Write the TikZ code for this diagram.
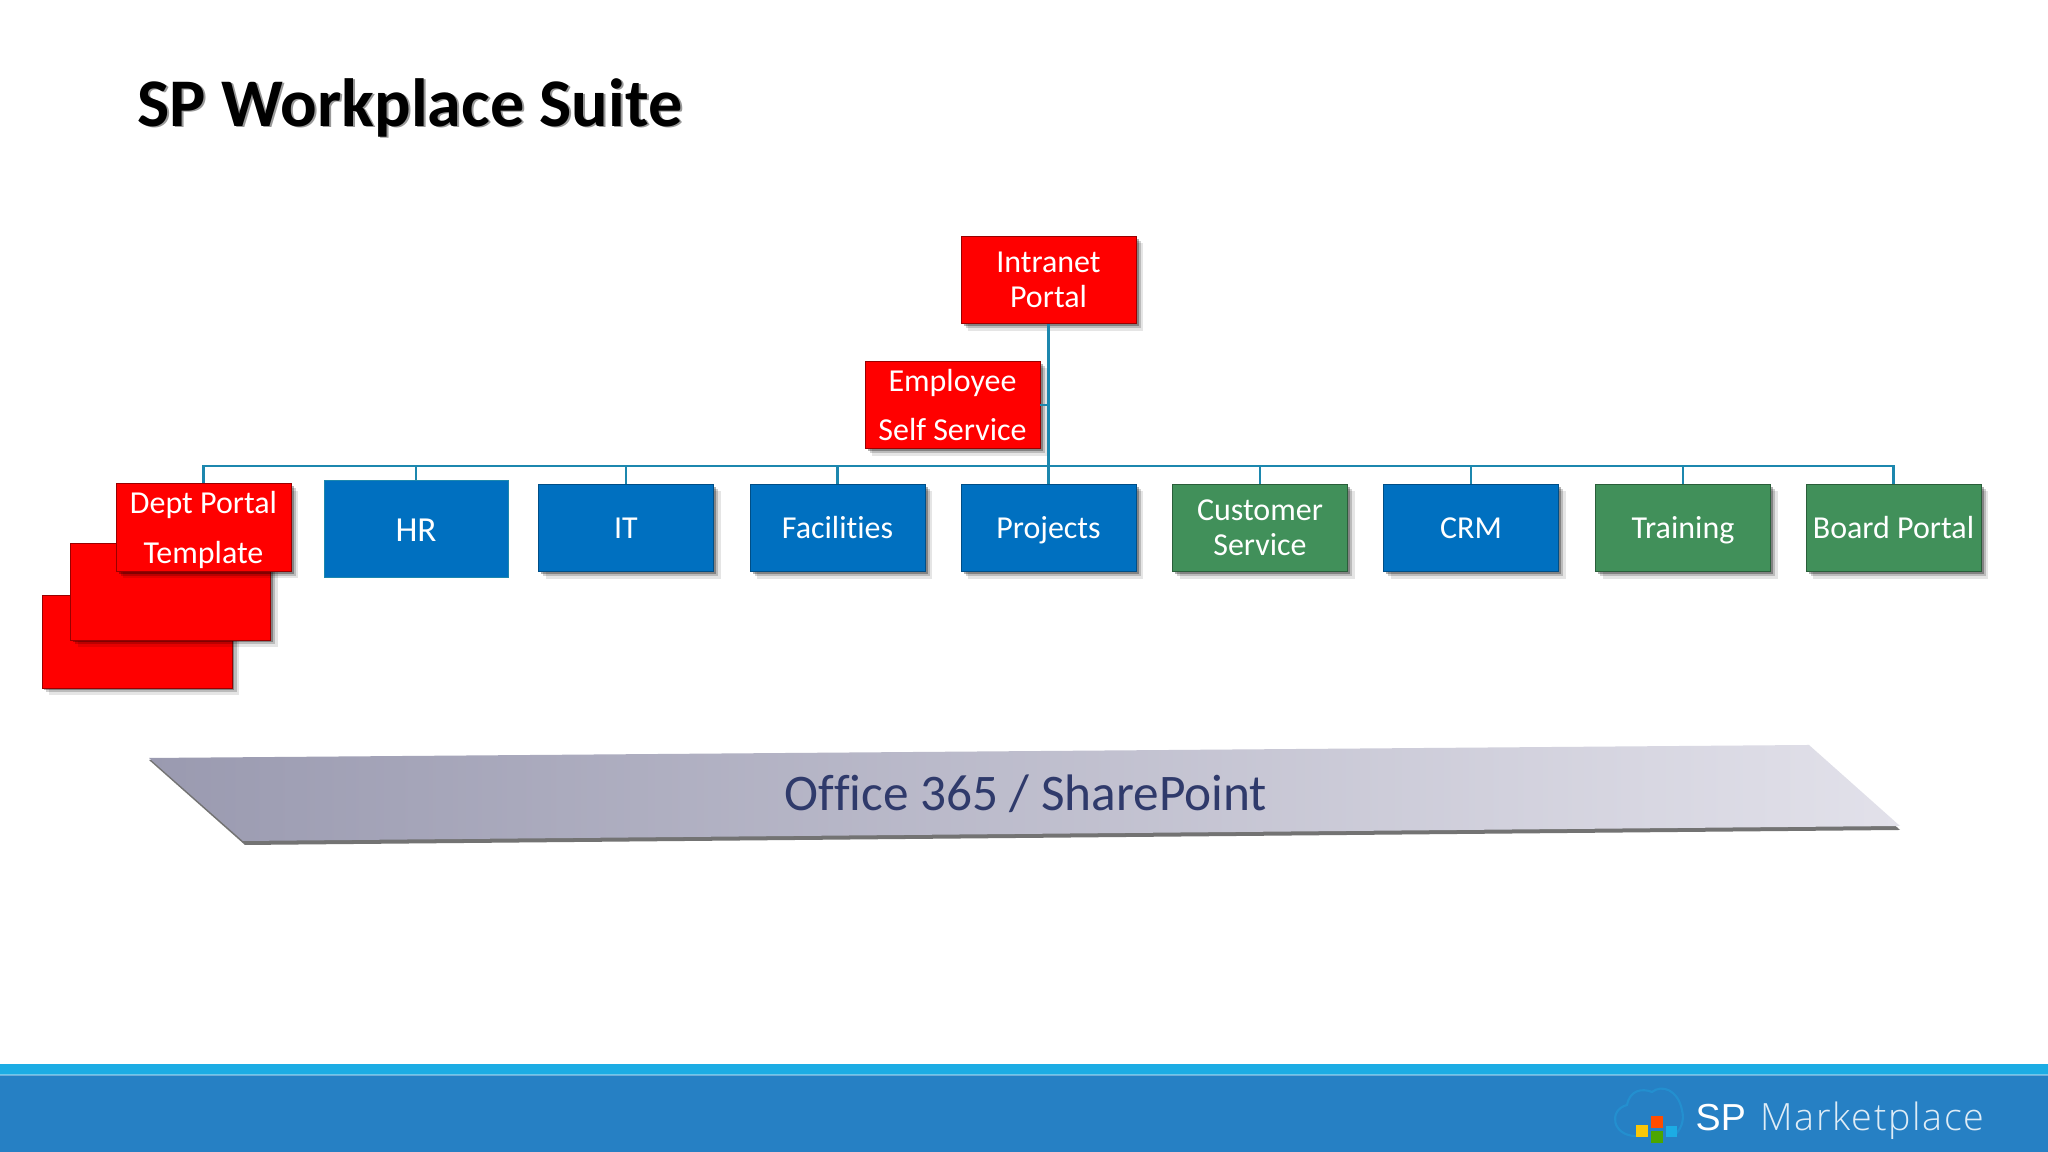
\documentclass[tikz,border=0pt]{standalone}
\usepackage{fontspec}
\setmainfont{Carlito}[Ligatures=NoCommon]
\newfontfamily\logofont{Liberation Sans}
\newfontfamily\logothin{Open Sans Light}[LetterSpace=4.4]
\usetikzlibrary{shadows}
\definecolor{portalred}{HTML}{FF0000}
\definecolor{deptblue}{HTML}{0070C0}
\definecolor{svcgreen}{HTML}{41905A}
\definecolor{orgline}{HTML}{1C87AE}
\definecolor{footblue}{HTML}{2680C4}
\definecolor{footlight}{HTML}{1CACE4}
\definecolor{bannertext}{HTML}{2F3A6B}
\definecolor{bannerleft}{HTML}{9A9AB0}
\definecolor{bannerright}{HTML}{E2E1EA}
\tikzset{
  softshadow/.style={
    drop shadow={shadow xshift=0.07,shadow yshift=-0.07,opacity=.1,fill=black},
    drop shadow={shadow xshift=0.045,shadow yshift=-0.045,opacity=.18,fill=black},
    drop shadow={shadow xshift=0.025,shadow yshift=-0.025,opacity=.3,fill=black}},
  box/.style={draw,line width=0.25pt,minimum width=1.75cm,minimum height=0.875cm,inner sep=0pt,
    align=center,text=white,font=\fontsize{9.1}{10}\selectfont},
  oneline/.style={text height=1.55ex,text depth=0.32ex},
  redbox/.style={box,fill=portalred,draw=red!60!black,softshadow},
  widered/.style={redbox,font=\fontsize{9.1}{14.1}\selectfont},
  bluebox/.style={box,fill=deptblue,draw=deptblue!70!black,softshadow,oneline},
  greenbox/.style={box,fill=svcgreen,draw=svcgreen!65!black,softshadow},
  link/.style={draw=orgline,line width=0.65pt},
  titletext/.style={anchor=base west,inner sep=0pt,font=\fontsize{19.4}{22}\bfseries\selectfont},
}
\begin{document}
\begin{tikzpicture}
\useasboundingbox (0,0) rectangle (20.48,11.52);
\fill[white] (0,0) rectangle (20.48,11.52);

% Title
\node[titletext,text=black!40] (titleshade) at (1.39,10.24) {SP Workplace Suite};
\node[titletext,text=black] (title) at (1.37,10.25) {SP Workplace Suite};

% Top of the chart
\node[redbox] (intranet) at (10.485,8.72) {Intranet\\Portal};
\node[widered] (employee) at (9.525,7.47) {Employee\\Self Service};

% Stacked templates
\node[redbox,minimum width=1.9cm,minimum height=0.93cm] (stackback) at (1.37,5.105) {};
\node[redbox,minimum width=2cm,minimum height=0.97cm] (stackmid) at (1.705,5.605) {};
\node[widered,text depth=0pt] (dept) at (2.035,6.245) {Dept Portal\\Template};

% Departments
\node[box,fill=deptblue,draw=orgline,minimum width=1.84cm,minimum height=0.97cm,text height=1.8ex,text depth=0.3ex,font=\fontsize{10}{11}\selectfont] (hr) at (4.16,6.23) {HR};
\node[bluebox] (it) at (6.26,6.24) {IT};
\node[bluebox] (facilities) at (8.375,6.24) {Facilities};
\node[bluebox] (projects) at (10.485,6.24) {Projects};
\node[greenbox] (customer) at (12.6,6.24) {Customer\\Service};
\node[bluebox] (crm) at (14.71,6.24) {CRM};
\node[greenbox,oneline] (training) at (16.83,6.24) {Training};
\node[greenbox,oneline] (board) at (18.935,6.24) {Board Portal};

% Connectors
\coordinate (bus) at (10.485,6.86);
\draw[link] (intranet) -- (projects);
\draw[link] (employee.east) -- (employee.east -| intranet.south);
\draw[link] (dept.north) |- (bus) -| (board.north);
\foreach \dep in {hr,it,facilities,customer,crm,training}
  \draw[link] (bus -| \dep.north) -- (\dep.north);

% Platform banner
\fill[black!55] (1.49,3.92) -- (18.09,4.05) -- (19.0,3.22) -- (2.45,3.07) -- cycle;
\shade[shading angle=90,left color=bannerleft,right color=bannerright]
  (1.49,3.94) -- (18.09,4.07) -- (19.0,3.26) -- (2.43,3.11) -- cycle;
\node[text=bannertext,font=\fontsize{14.6}{17}\selectfont,inner sep=0pt] (platform) at (10.26,3.58) {Office 365 / SharePoint};

% Footer
\fill[footblue] (0,0) rectangle (20.48,0.88);
\fill[footlight] (0,0.77) rectangle (20.48,0.88);
\fill[white,opacity=.35] (0,0.76) rectangle (20.48,0.775);

% Logo
\draw[line width=0.6pt,draw=footlight!35!footblue]
  (16.36,0.16) .. controls (16.12,0.16) and (16.08,0.42) .. (16.27,0.47)
  .. controls (16.3,0.62) and (16.42,0.64) .. (16.52,0.6)
  .. controls (16.62,0.68) and (16.78,0.62) .. (16.82,0.42)
  .. controls (16.85,0.3) and (16.8,0.22) .. (16.74,0.16);
\fill[orange!60!red] (16.51,0.24) rectangle (16.63,0.36);
\fill[yellow!60!orange] (16.36,0.15) rectangle (16.48,0.27);
\fill[footlight] (16.66,0.15) rectangle (16.77,0.26);
\fill[green!50!black!70!yellow] (16.51,0.09) rectangle (16.63,0.21);
\node[anchor=base west,inner sep=0pt,text=white,font=\logofont\fontsize{10.7}{12}\selectfont] (logosp) at (16.95,0.21) {SP};
\node[anchor=base west,inner sep=0pt,text=white!85!footblue,font=\logothin\fontsize{10.7}{12}\selectfont] (logoname) at (17.6,0.21) {Marketplace};
\end{tikzpicture}
\end{document}
